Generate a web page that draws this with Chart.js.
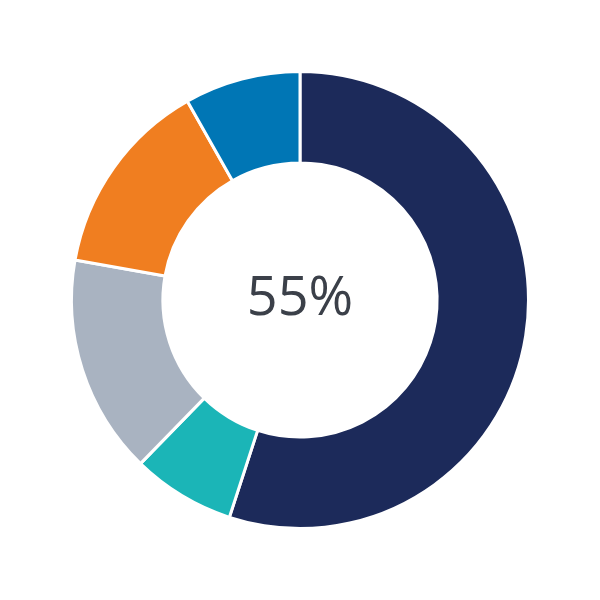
<!DOCTYPE html>
<html>
<head>
<meta charset="utf-8">
<script src="https://cdn.jsdelivr.net/npm/chart.js@4"></script>
<style>
  html, body { margin: 0; padding: 0; background: #fff; }
  #wrap { width: 600px; height: 600px; }
</style>
</head>
<body>
<div id="wrap"><canvas id="donut" width="600" height="600"></canvas></div>
<script>
const labels = ['A', 'B', 'C', 'D', 'E'];
const values = [55, 7.3, 15.5, 14, 8.2];
const colors = ['#1c2a5a', '#1bb5b7', '#a9b3c1', '#f07e20', '#0076b5'];
const centerText = '55%';

// texte au centre du donut
const centerLabel = {
    id: 'centerLabel',
    afterDraw(chart) {
        const ctx = chart.ctx;
        const meta = chart.getDatasetMeta(0).data[0];
        ctx.save();
        ctx.font = '400 54px "Open Sans"';
        ctx.fillStyle = '#3b4049';
        ctx.textAlign = 'center';
        ctx.textBaseline = 'middle';
        ctx.fillText(centerText, meta.x, meta.y);
        ctx.restore();
    }
};

function draw() {
    new Chart(document.getElementById('donut'), {
        type: 'doughnut',
        data: {
            labels: labels,
            datasets: [{
                data: values,
                backgroundColor: colors,
                borderColor: '#ffffff',
                borderWidth: 3
            }]
        },
        options: {
            responsive: false,
            animation: false,
            cutout: '60%',
            layout: { padding: 70 },
            plugins: {
                legend: { display: false },
                tooltip: { enabled: false }
            }
        },
        plugins: [centerLabel]
    });
}

document.fonts.load('400 54px "Open Sans"').then(draw, draw);
</script>
</body>
</html>
